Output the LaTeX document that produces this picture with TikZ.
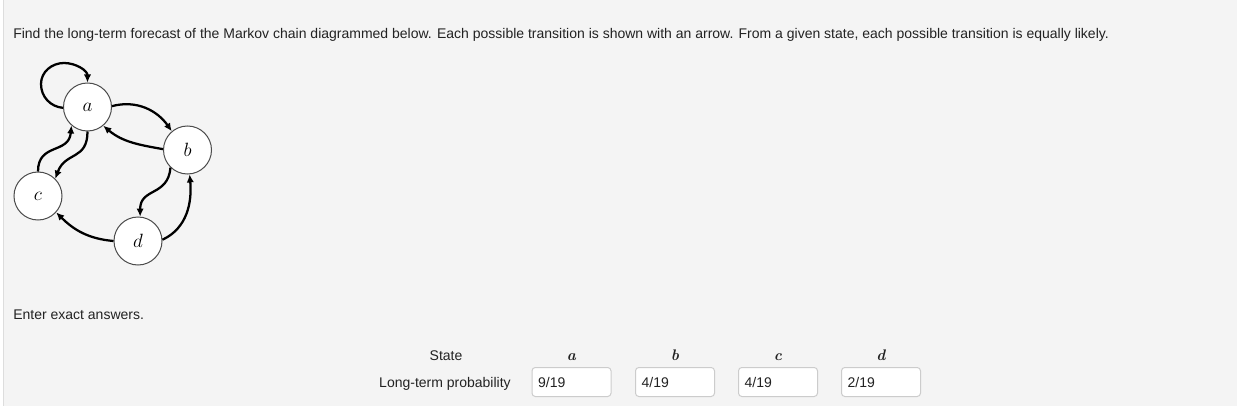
\documentclass[tikz,border=0pt]{standalone}
\usepackage{fontspec}
\setmainfont{Liberation Sans}
\usepackage{tikz}
\usetikzlibrary{positioning,calc,arrows.meta}

\definecolor{pagebg}{HTML}{F4F4F4}
\definecolor{txt}{HTML}{222222}
\definecolor{boxline}{HTML}{CCCCCC}
\definecolor{edgeline}{HTML}{DDDDDD}

\tikzset{
	state/.style={draw=black!70,line width=0.75pt,circle,fill=white,minimum size=36pt,inner sep=0pt,font=\fontsize{15}{17}\selectfont},
	trans/.style={line width=1.7pt,-{Latex[length=6pt,width=5.5pt]}},
	plain/.style={anchor=base west,inner sep=0pt,text=txt,font=\fontsize{10.5}{12}\selectfont},
	ansbox/.style={draw=boxline,fill=white,rounded corners=2.5pt,minimum width=59.25pt,minimum height=21.75pt,
		text width=50pt,align=left,inner xsep=4.5pt,inner ysep=0pt,line width=0.75pt,text=txt,font=\fontsize{10.5}{12}\selectfont},
}

\begin{document}
\begin{tikzpicture}[x=0.75pt,y=0.75pt]
		\useasboundingbox (0,0) rectangle (1237,-406);
		\fill[pagebg] (0,0) rectangle (1237,-406);
		\fill[white] (0,0) rectangle (3,-406);
		\draw[edgeline,line width=0.75pt] (3.5,0) -- (3.5,-406);
		% question
		\node[plain] (q) at (13,-39) {Find the long-term forecast of the Markov chain diagrammed below. Each possible transition is shown with an arrow. From a given state, each possible transition is equally likely.};
		% the chain
		\node[state] (a) at (87.5,-107) {$a$};
		\node[state] (b) at (187.5,-150) {$b$};
		\node[state] (c) at (38,-196) {$c$};
		\node[state] (d) at (138,-241) {$d$};
		\coordinate (loopl) at (41,-84);
		\coordinate (loopt) at (64,-63);
		\draw[trans] (a.182) to[out=175,in=-90] (loopl) to[out=90,in=180] (loopt) to[out=0,in=90] (a.north);
		\draw[trans] (a.2) to[out=15,in=125] (b.130);
		\draw[trans] (b.178) to[out=170,in=-40] (a.310);
		\draw[trans] (c.north) to[out=90,in=-95,looseness=1.3] (a.229);
		\draw[trans] (a.south) to[out=-90,in=70,looseness=1.3] (c.45);
		\draw[trans] (b.226) to[out=-95,in=90,looseness=1.3] (d.85);
		\draw[trans] (d.3) to[out=25,in=-85] (b.275);
		\draw[trans] (d.180) to[out=175,in=-45] (c.318);
		% answers
		\node[plain] (enter) at (13,-319) {Enter exact answers.};
		\node[plain,anchor=base] (st) at (446,-360) {State};
		\node[plain,anchor=base east] (lp) at (511,-387) {Long-term probability};
		\foreach \s/\x/\num/\den in {a/571.5/9/19,b/675/4/19,c/778/4/19,d/881/2/19}{
			\node[plain,anchor=base,font=\fontsize{11.5}{12}\selectfont\bfseries\itshape] (h\s) at (\x,-360) {\fontspec{Latin Modern Roman}\s};
			\node[ansbox] (p\s) at (\x,-382) {\num/\den};
		}
	\end{tikzpicture}
\end{document}
